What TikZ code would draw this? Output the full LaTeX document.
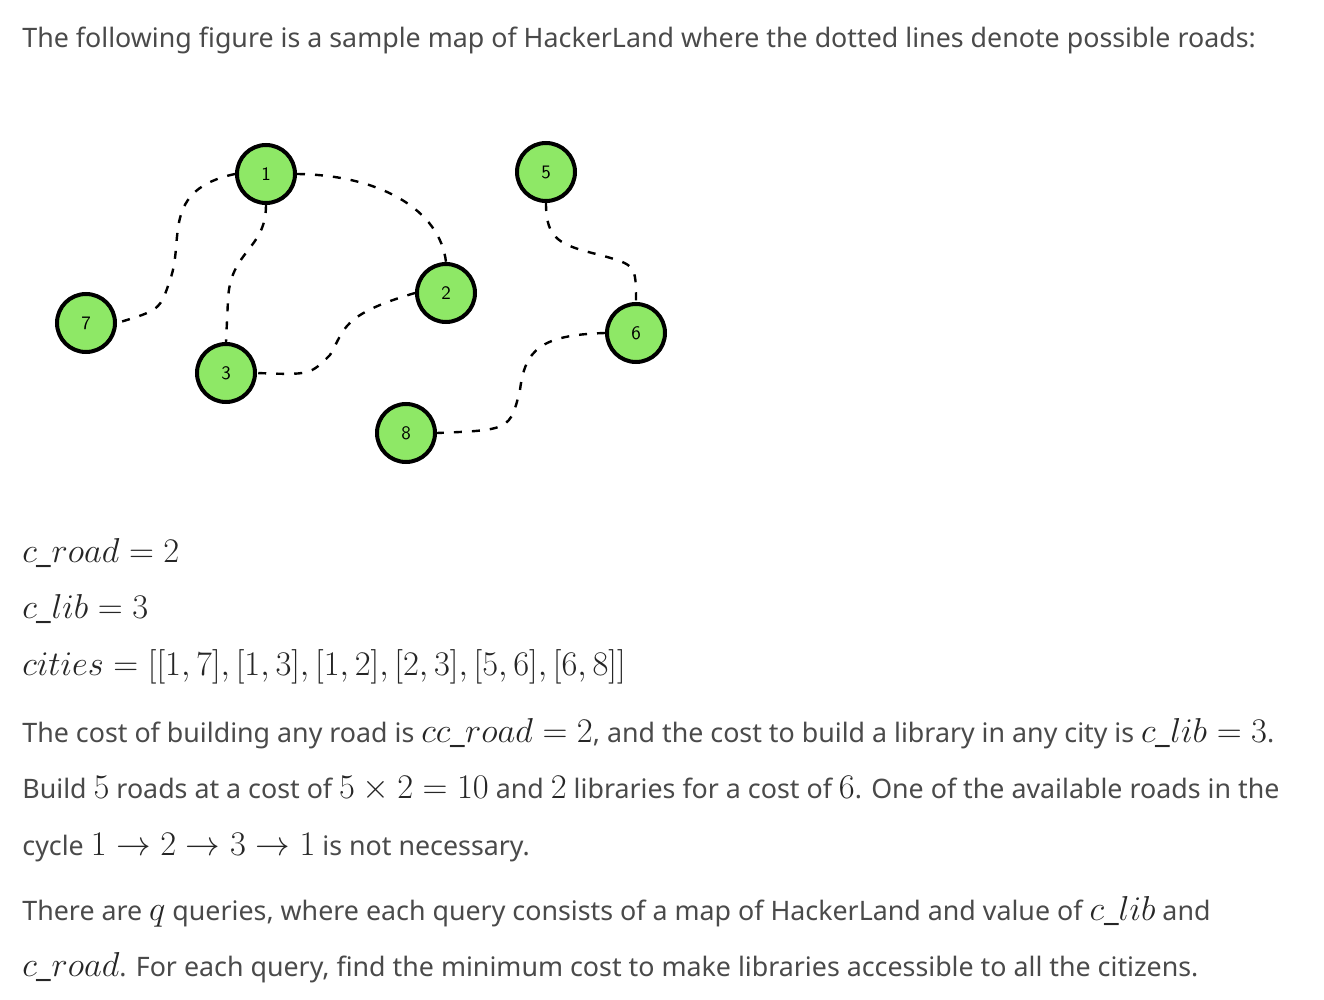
\documentclass[tikz,border=0pt]{standalone}
\usepackage{fontspec}
\setmainfont{Noto Sans}
\usepackage{amsmath}
\definecolor{txt}{HTML}{4A4A4A}
\definecolor{nodegreen}{HTML}{8EE866}
\newcommand{\mth}[1]{{\fontsize{16.5}{16}\selectfont\color{black!85}$#1$}}
\begin{document}
\begin{tikzpicture}[x=0.5pt,y=-0.5pt,
  city/.style={circle,draw=black,line width=2pt,fill=nodegreen,minimum size=29pt,inner sep=0pt,font=\fontsize{9.5}{10}\selectfont\sffamily},
  road/.style={line width=1.2pt,dash pattern=on 4pt off 5pt},
  line/.style={anchor=base west,inner sep=0pt,text=txt,font=\fontsize{13.4}{16}\selectfont}]
\useasboundingbox (0,0) rectangle (1324,1000);
\fill[white] (0,0) rectangle (1324,1000);
\node[line] (h) at (22,48) {The following figure is a sample map of HackerLand where the dotted lines denote possible roads:};
\node[city] (n1) at (266,174) {1};
\node[city] (n5) at (546,172) {5};
\node[city] (n2) at (446,293) {2};
\node[city] (n7) at (86,323) {7};
\node[city] (n6) at (636,333) {6};
\node[city] (n3) at (226,373) {3};
\node[city] (n8) at (406,433) {8};
\draw[road] (n1.west) .. controls (160,190) and (185,240) .. (170,280) .. controls (160,310) .. (n7.east);
\draw[road] (n1.south) .. controls (266,250) and (230,250) .. (228,300) -- (n3.north);
\draw[road] (n1.east) .. controls (380,175) and (440,210) .. (n2.north);
\draw[road] (n2.west) .. controls (340,315) and (345,330) .. (330,355) .. controls (310,375) .. (n3.east);
\draw[road] (n5.south) .. controls (546,240) and (560,245) .. (600,255) .. controls (636,265) .. (n6.north);
\draw[road] (n6.west) .. controls (540,335) and (525,350) .. (520,390) .. controls (510,430) .. (n8.east);
\node[line] (l1) at (22,562) {\mth{c\_road = 2}};
\node[line] (l2) at (22,618) {\mth{c\_lib = 3}};
\node[line] (l3) at (22,675) {\mth{cities = [[1,7],[1,3],[1,2],[2,3],[5,6],[6,8]]}};
\node[line] (l4) at (22,742) {The cost of building any road is \mth{cc\_road = 2}, and the cost to build a library in any city is \mth{c\_lib = 3}.};
\node[line] (l5) at (22,798) {Build \mth{5} roads at a cost of \mth{5\times 2 = 10} and \mth{2} libraries for a cost of \mth{6}. One of the available roads in the};
\node[line] (l6) at (22,855) {cycle \mth{1\rightarrow 2\rightarrow 3\rightarrow 1} is not necessary.};
\node[line] (l7) at (22,920) {There are \mth{q} queries, where each query consists of a map of HackerLand and value of \mth{c\_lib} and};
\node[line] (l8) at (22,976) {\mth{c\_road}. For each query, find the minimum cost to make libraries accessible to all the citizens.};
\end{tikzpicture}
\end{document}
